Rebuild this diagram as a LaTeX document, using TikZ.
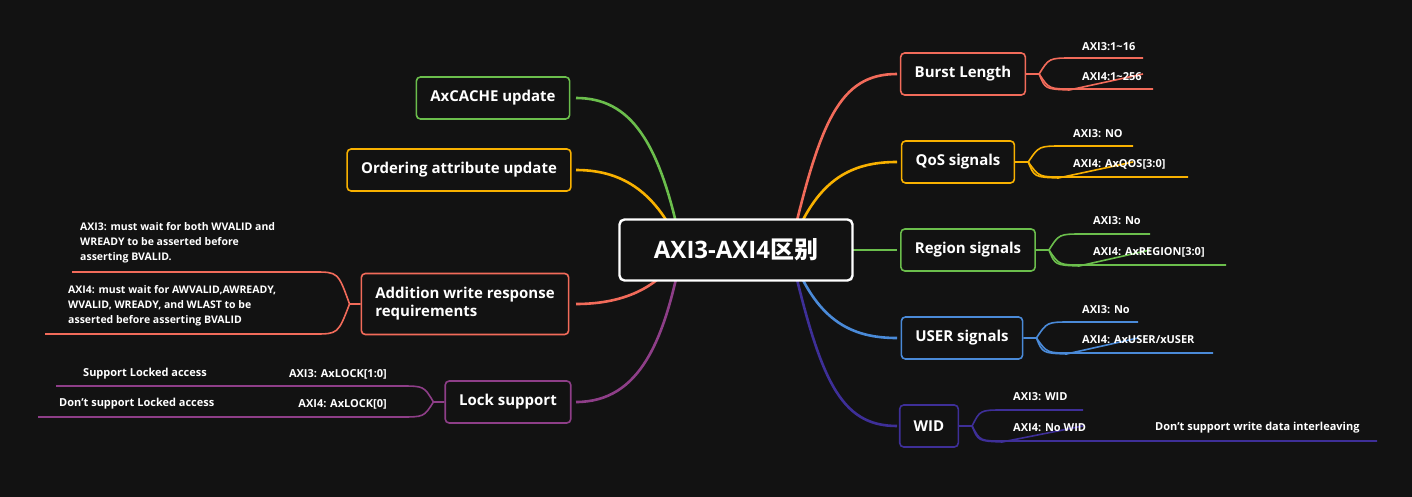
\documentclass[tikz,border=0pt]{standalone}
\usepackage{fontspec}
\setmainfont{Open Sans}
\newfontfamily\cjk{Noto Sans CJK SC}
\definecolor{bgc}{HTML}{121212}
\definecolor{cred}{HTML}{F26B5A}
\definecolor{corg}{HTML}{F8B100}
\definecolor{cgrn}{HTML}{6BBE4C}
\definecolor{cblu}{HTML}{4A8AD8}
\definecolor{cpur}{HTML}{3E2F98}
\definecolor{cvio}{HTML}{8E3E88}
\tikzset{
  topic/.style={draw=#1,line width=1.6pt,rounded corners=4pt,fill=bgc,text=white,
    font=\fontsize{15}{18}\selectfont\bfseries,inner xsep=14pt,minimum height=42pt},
  leaf/.style={text=white,font=\fontsize{11}{14}\selectfont\bfseries,inner sep=0pt},
  branch/.style={draw=#1,line width=2.6pt},
  twig/.style={draw=#1,line width=1.6pt}
}
\begin{document}
\begin{tikzpicture}[x=1pt,y=-1pt]
\fill[bgc] (0,0) rectangle (1412,497);
% branches from the root
\coordinate (rr) at (790,250);
\coordinate (rl) at (682,250);
\draw[branch=cred] (rr) .. controls (820,120) and (840,74) .. (897,74);
\draw[branch=corg] (rr) .. controls (815,180) and (850,162) .. (897,162);
\draw[branch=cgrn] (rr) -- (897,250);
\draw[branch=cblu] (rr) .. controls (815,320) and (850,338) .. (897,338);
\draw[branch=cpur] (rr) .. controls (820,380) and (840,426) .. (897,426);
\draw[branch=cgrn] (rl) .. controls (660,140) and (630,98) .. (576,98);
\draw[branch=corg] (rl) .. controls (660,200) and (630,170) .. (576,170);
\draw[branch=cred] (rl) .. controls (660,290) and (620,304) .. (576,304);
\draw[branch=cvio] (rl) .. controls (665,340) and (640,402) .. (576,402);
% root
\node[draw=white,line width=2.4pt,rounded corners=5pt,fill=bgc,text=white,
  minimum width=233pt,minimum height=61pt,font=\fontsize{24}{28}\selectfont\bfseries]
  (root) at (736,250) {AXI3-AXI4{\cjk 区别}};
% right topics
\node[topic=cred] (burst) at (963,74) {Burst Length};
\node[topic=corg] (qos) at (958,162) {QoS signals};
\node[topic=cgrn] (region) at (968,250) {Region signals};
\node[topic=cblu] (user) at (962,338) {USER signals};
\node[topic=cpur] (wid) at (929,426) {WID};
% left topics
\node[topic=cgrn] (cache) at (493,98) {AxCACHE update};
\node[topic=corg] (order) at (459,170) {Ordering attribute update};
\node[topic=cred,align=left,minimum height=61pt] (resp) at (465,304)
  {Addition write response\\requirements};
\node[topic=cvio] (lock) at (508,402) {Lock support};
% right leaves
\foreach \t/\c/\u/\l/\a/\b in {burst/cred/1143/1153/1082/AXI3:1\textasciitilde16,
  qos/corg/1133/1188/1073/AXI3: NO,region/cgrn/1150/1226/1093/AXI3: No,
  user/cblu/1138/1213/1082/AXI3: No,wid/cpur/1083/1377/1013/AXI3: WID}{
  \coordinate (\t-f) at ([xshift=13pt]\t.east);
  \draw[twig=\c] (\t.east) -- (\t-f) .. controls ([xshift=6pt,yshift=-15pt]\t-f) ..
    ([xshift=30pt,yshift=-16pt]\t-f) -- (\u,{0}|-\t.east) ;
}
\draw[twig=cred] (burst-f) .. controls (1049,89) .. (1073,89) -- (1153,89);
\draw[twig=cred] (burst-f) .. controls (1049,58) .. (1073,58) -- (1143,58);
\draw[twig=corg] (qos-f) .. controls (1039,177) .. (1063,177) -- (1188,177);
\draw[twig=corg] (qos-f) .. controls (1039,146) .. (1063,146) -- (1133,146);
\draw[twig=cgrn] (region-f) .. controls (1059,265) .. (1083,265) -- (1226,265);
\draw[twig=cgrn] (region-f) .. controls (1059,234) .. (1083,234) -- (1150,234);
\draw[twig=cblu] (user-f) .. controls (1047,353) .. (1071,353) -- (1213,353);
\draw[twig=cblu] (user-f) .. controls (1047,322) .. (1071,322) -- (1138,322);
\draw[twig=cpur] (wid-f) .. controls (980,441) .. (1004,441) -- (1377,441);
\draw[twig=cpur] (wid-f) .. controls (980,410) .. (1004,410) -- (1083,410);
\node[leaf,anchor=west] (b3) at (1082,47) {AXI3:1\textasciitilde16};
\node[leaf,anchor=west] (b4) at (1082,77) {AXI4:1\textasciitilde256};
\node[leaf,anchor=west] (q3) at (1073,134) {AXI3: NO};
\node[leaf,anchor=west] (q4) at (1073,164) {AXI4: AxQOS[3:0]};
\node[leaf,anchor=west] (r3) at (1093,221) {AXI3: No};
\node[leaf,anchor=west] (r4) at (1093,252) {AXI4: AxREGION[3:0]};
\node[leaf,anchor=west] (u3) at (1082,310) {AXI3: No};
\node[leaf,anchor=west] (u4) at (1082,340) {AXI4: AxUSER/xUSER};
\node[leaf,anchor=west] (w3) at (1013,397) {AXI3: WID};
\node[leaf,anchor=west] (w4) at (1013,428) {AXI4: No WID};
\node[leaf,anchor=west] (w4n) at (1155,428) {Don't support write data interleaving};
% left leaves
\coordinate (resp-f) at ([xshift=-11pt]resp.west);
\coordinate (lock-f) at ([xshift=-11pt]lock.west);
\draw[twig=cred] (resp.west) -- (resp-f) .. controls (338,272) .. (314,272) -- (72,272);
\draw[twig=cred] (resp-f) .. controls (338,334) .. (314,334) -- (45,334);
\draw[twig=cvio] (lock.west) -- (lock-f) .. controls (424,386) .. (400,386) -- (56,386);
\draw[twig=cvio] (lock-f) .. controls (424,417) .. (400,417) -- (38,417);
\node[leaf,anchor=north west,align=left,font=\fontsize{10.5}{15}\selectfont\bfseries]
  (a3) at (80,222) {AXI3: must wait for both WVALID and\\WREADY to be asserted before\\asserting BVALID.};
\node[leaf,anchor=north west,align=left,font=\fontsize{10.5}{15}\selectfont\bfseries]
  (a4) at (68,285) {AXI4: must wait for AWVALID,AWREADY,\\WVALID, WREADY, and WLAST to be\\asserted before asserting BVALID};
\node[leaf,anchor=east] (l3) at (387,374) {AXI3: AxLOCK[1:0]};
\node[leaf,anchor=west] (l3n) at (83,374) {Support Locked access};
\node[leaf,anchor=east] (l4) at (387,404) {AXI4: AxLOCK[0]};
\node[leaf,anchor=west] (l4n) at (59,404) {Don't support Locked access};
\end{tikzpicture}
\end{document}
